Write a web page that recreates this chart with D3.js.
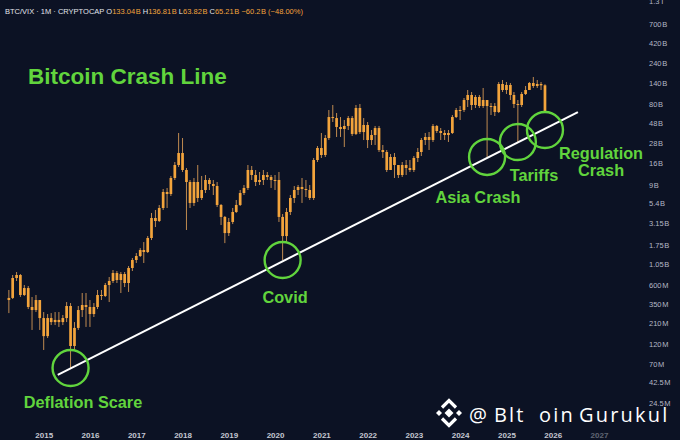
<!DOCTYPE html>
<html><head><meta charset="utf-8">
<script src="https://cdn.jsdelivr.net/npm/d3@7"></script>
<style>html,body{margin:0;padding:0;background:#0c1224;}svg{display:block;}</style>
</head><body><svg id="c" width="680" height="440"></svg>
<script>
// ---------- DATA (values in billions, monthly candles from Apr 2014) ----------
const firstMonth = [2014, 3];          // April 2014
const firstOpen = 0.396;
const closes = [0.419,0.719,0.780,0.454,0.548,0.328,0.302,0.396,0.243,
  0.149,0.243,0.218,0.231,0.218,0.243,0.337,0.114,0.186,0.302,0.346,0.328,
  0.271,0.328,0.454,0.442,0.595,0.663,0.823,0.681,0.801,0.628,0.943,1.171,
  1.305,1.535,1.454,2.125,3.655,3.368,4.790,7.389,7.0,10.80,15.35,21.25,
  13.41,9.69,5.49,9.69,6.28,7.80,10.23,9.18,8.69,5.20,3.76,2.43,
  3.28,4.30,5.20,7.19,8.24,13.41,11.71,9.69,10.23,11.71,11.09,10.23,
  10.23,3.76,2.24,4.30,6.28,7.80,8.46,8.02,7.80,6.28,17.58,24.34,
  20.13,31.9,56.3,54.8,43.0,40.7,44.2,54.8,35.6,71.9,37.5,45.4,
  30.2,34.6,41.8,23.05,21.84,13.41,19.07,15.35,11.71,15.35,14.15,13.41,
  18.56,21.84,30.23,32.78,30.23,44.16,38.57,36.54,34.61,36.54,56.33,68.1,
  68.1,89.3,102.3,78.0,96.9,75.9,89.3,75.9,75.9,64.5,137.8,117.1,
  134.1,102.3,80.1,78.0,105.1,117.1,141.6,130.5,137.8,133.04,65.21];
const highs = [0.520,0.780,0.846,0.801,0.595,0.579,0.430,0.454,0.396,
  0.286,0.271,0.278,0.286,0.286,0.264,0.375,0.365,0.218,0.337,0.479,0.479,
  0.396,0.365,0.520,0.520,0.628,0.739,0.893,0.869,0.846,0.846,0.995,1.236,
  1.415,1.618,1.904,2.244,4.186,4.54,5.196,8.016,8.236,11.40,16.65,36.54,
  31.9,14.15,10.23,10.80,15.35,11.40,11.71,10.80,10.23,9.69,5.34,3.86,
  3.655,4.79,5.95,7.80,8.93,15.35,14.94,13.41,12.70,13.41,12.70,11.71,
  11.71,12.70,4.07,4.79,6.81,8.69,8.93,10.80,10.23,8.93,18.56,25.69,
  36.54,34.61,68.1,78.0,62.8,56.3,51.96,57.9,57.9,78.0,80.1,54.8,
  49.2,39.6,44.2,44.2,26.4,23.05,20.68,21.25,15.35,16.65,17.58,17.58,
  19.59,24.34,31.9,36.54,37.54,46.62,45.38,41.83,39.63,39.63,59.47,71.9,
  75.9,94.3,117.1,110.9,102.3,102.3,123.7,89.3,82.3,82.3,145.5,153.6,
  145.5,141.6,110.9,89.3,110.9,130.5,145.5,166.6,153.6,145.5,136.81];
const lows = [0.278,0.407,0.663,0.430,0.442,0.310,0.176,0.286,0.176,
  0.1023,0.1415,0.201,0.201,0.191,0.201,0.218,0.0628,0.1023,0.176,0.250,0.191,
  0.191,0.250,0.310,0.396,0.430,0.375,0.628,0.628,0.479,0.563,0.493,0.869,
  1.080,1.270,1.080,1.415,2.01,2.862,3.278,4.54,4.79,6.63,10.23,14.54,
  12.70,2.64,4.79,5.06,5.64,5.95,7.19,7.80,6.81,4.92,3.02,1.85,
  2.244,3.10,4.19,5.06,6.81,7.80,10.23,8.69,8.93,8.93,10.23,8.24,
  7.80,3.28,1.171,1.904,3.96,5.49,6.81,5.49,6.45,5.95,5.95,16.65,
  18.56,19.07,30.23,49.2,32.8,32.8,25.0,39.6,33.7,34.6,35.6,30.2,
  24.3,26.4,26.4,21.84,18.56,12.70,13.41,10.80,10.80,11.09,11.71,12.70,
  12.70,16.65,19.59,26.40,23.05,28.64,36.54,30.23,30.23,28.64,35.56,54.83,
  51.96,64.51,73.87,68.1,71.9,71.9,71.9,19.07,59.47,57.88,62.78,110.9,
  105.1,89.3,71.9,28.64,73.87,102.3,117.1,123.7,123.7,117.1,63.82];

const yTicks = [1300,700,420,240,140,80,48,28,16,9,5.4,3.15,1.75,1.05,0.6,0.35,0.21,0.12,0.07,0.0425,0.0245];
const yTickLabels = ["1.3\u200AT","700\u200AB","420\u200AB","240\u200AB","140\u200AB","80\u200AB","48\u200AB","28\u200AB","16\u200AB","9\u200AB","5.4\u200AB","3.15\u200AB","1.75\u200AB","1.05\u200AB","600\u200AM","350\u200AM","210\u200AM","120\u200AM","70\u200AM","42.5\u200AM","24.5\u200AM"];
const years = [2015,2016,2017,2018,2019,2020,2021,2022,2023,2024,2025,2026,2027];

const headerTitle = "BTC/VIX \u00B7 1M \u00B7 CRYPTOCAP";
const headerOHLC = [["O","133.04\u200AB"],["H","136.81\u200AB"],["L","63.82\u200AB"],["C","65.21\u200AB"]];
const headerChange = "\u221260.2\u200AB (\u221248.00%)";

const title = "Bitcoin Crash Line";
const trendLine = [{date:new Date(2015,3,22), value:0.052},{date:new Date(2026,6,19), value:64.5}];
const events = [
  {date:new Date(2015,7,1),  value:0.0628},
  {date:new Date(2020,2,1),  value:1.17},
  {date:new Date(2024,7,1),  value:19.1},
  {date:new Date(2025,3,1),  value:28.6},
  {date:new Date(2025,10,1), value:39.6}
];
const eventLabels = [
  {lines:["Deflation Scare"], x:83, y:408},
  {lines:["Covid"], x:285, y:303},
  {lines:["Asia Crash"], x:478, y:203},
  {lines:["Tariffs"], x:534, y:181},
  {lines:["Regulation","Crash"], x:601, y:159}
];

// ---------- CHART ----------
const W = 680, H = 440;
const GREEN = "#61d43d", ORANGE = "#f3a43c", WICK = "#bf8a50";
const svg = d3.select("#c");
svg.append("rect").attr("width",W).attr("height",H).attr("fill","#0c1224");

const x = d3.scaleTime().domain([new Date(2015,0,1), new Date(2026,0,1)]).range([43.7, 552.7]);
const y = d3.scaleLog().domain([0.07, 700]).range([364, 24]);

const candles = closes.map((c,i)=>{
  const open = i===0 ? firstOpen : closes[i-1];
  return {date:new Date(firstMonth[0], firstMonth[1]+i, 1), open, close:c,
          high:Math.max(highs[i],open,c), low:Math.min(lows[i],open,c)};
});

const bw = 2.7;
const g = svg.append("g");
g.selectAll("line.wick").data(candles).join("line").attr("class","wick")
  .attr("x1",d=>x(d.date)).attr("x2",d=>x(d.date))
  .attr("y1",d=>y(d.high)).attr("y2",d=>y(d.low))
  .attr("stroke",WICK).attr("stroke-width",1);
g.selectAll("rect.body").data(candles).join("rect").attr("class","body")
  .attr("x",d=>x(d.date)-bw/2).attr("width",bw)
  .attr("y",d=>y(Math.max(d.open,d.close)))
  .attr("height",d=>Math.max(1, y(Math.min(d.open,d.close))-y(Math.max(d.open,d.close))))
  .attr("fill",ORANGE);

// trend line
svg.append("path").datum(trendLine)
  .attr("d", d3.line().x(d=>x(d.date)).y(d=>y(d.value)))
  .attr("stroke","#ffffff").attr("stroke-width",2).attr("fill","none");

// event circles
svg.selectAll("circle.ev").data(events).join("circle").attr("class","ev")
  .attr("cx",d=>x(d.date)).attr("cy",d=>y(d.value)).attr("r",18)
  .attr("fill","none").attr("stroke",GREEN).attr("stroke-width",2.4);

// right axis
const ya = svg.append("g").attr("transform","translate(649,0)")
  .call(d3.axisRight(y).tickValues(yTicks).tickFormat((d,i)=>yTickLabels[i]).tickSize(0).tickPadding(0));
ya.select(".domain").remove();
ya.selectAll("text").attr("fill","#b4b8c4").attr("font-size","7.5px")
  .attr("font-family","Liberation Sans, Arial, sans-serif").attr("text-anchor","start");

// bottom axis
const xa = svg.append("g").attr("transform","translate(0,432)")
  .call(d3.axisBottom(x).tickValues(years.map(yr=>new Date(yr,0,1))).tickFormat(d3.timeFormat("%Y")).tickSize(0).tickPadding(0));
xa.select(".domain").remove();
xa.selectAll("text").attr("fill","#c4c8d2").attr("font-size","8px").attr("font-weight","bold")
  .attr("font-family","Liberation Sans, Arial, sans-serif")
  .attr("opacity",(d)=>d.getFullYear()===2027?0.45:1);

// header
const ht = svg.append("text").attr("x",5).attr("y",14)
  .attr("font-size","7.5px").attr("font-family","Liberation Sans, Arial, sans-serif");
ht.append("tspan").attr("fill","#e2e5ec").text(headerTitle+"  ");
headerOHLC.forEach(([k,v])=>{
  ht.append("tspan").attr("fill","#e2e5ec").text(k);
  ht.append("tspan").attr("fill",ORANGE).text(v+"  ");
});
ht.append("tspan").attr("fill",ORANGE).text(headerChange);

// title
svg.append("text").attr("x",28).attr("y",84).text(title)
  .attr("fill",GREEN).attr("font-size","22.5px").attr("font-weight","bold")
  .attr("font-family","Liberation Sans, Arial, sans-serif");

// event labels
eventLabels.forEach(l=>{
  const t = svg.append("text").attr("x",l.x).attr("y",l.y).attr("text-anchor","middle")
    .attr("fill",GREEN).attr("font-size","16.3px").attr("font-weight","bold")
    .attr("font-family","Liberation Sans, Arial, sans-serif");
  l.lines.forEach((s,i)=>t.append("tspan").attr("x",l.x).attr("dy",i===0?0:17).text(s));
});

// watermark
const wm = svg.append("g");
const lg = wm.append("g").attr("transform","translate(449,413)").attr("fill","#ffffff").attr("stroke","#ffffff");
lg.append("path").attr("d","M0,-4.5L4.5,0L0,4.5L-4.5,0Z").attr("stroke","none");
lg.append("path").attr("d","M-10,-3L-7,0L-10,3L-13,0Z").attr("stroke","none");
lg.append("path").attr("d","M10,-3L13,0L10,3L7,0Z").attr("stroke","none");
lg.append("path").attr("d","M-7,-5.5L0,-12.5L7,-5.5").attr("fill","none").attr("stroke-width",3.2);
lg.append("path").attr("d","M-7,5.5L0,12.5L7,5.5").attr("fill","none").attr("stroke-width",3.2);
[["@",469],["Blt",494],["oin",539],["Gurukul",579]].forEach(([s,px])=>{
  wm.append("text").attr("x",px).attr("y",422).text(s).attr("fill","#ffffff")
    .attr("font-size","20px").attr("letter-spacing","2.2px")
    .attr("font-family","Open Sans, Noto Sans, sans-serif");
});
</script></body></html>
